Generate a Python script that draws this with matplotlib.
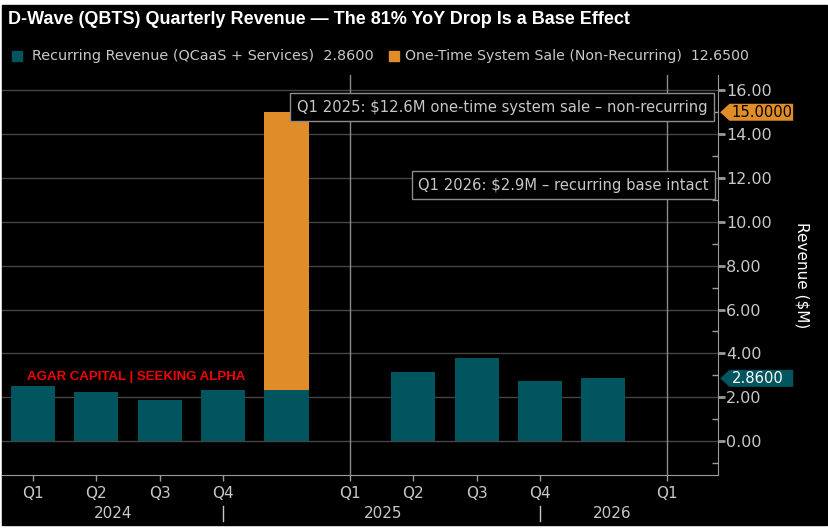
import numpy as np
import matplotlib
matplotlib.use('Agg')
import matplotlib.pyplot as plt
import matplotlib.transforms as mtransforms
from matplotlib.patches import Rectangle, Polygon

# Data (US$ millions)
bar_slots = [0, 1, 2, 3, 4, 6, 7, 8, 9]
recurring = [2.50, 2.23, 1.89, 2.34, 2.35, 3.13, 3.78, 2.75, 2.86]
one_time = [0, 0, 0, 0, 12.65, 0, 0, 0, 0]

tick_slots = [0, 1, 2, 3, 5, 6, 7, 8, 10]
tick_labels = ['Q1', 'Q2', 'Q3', 'Q4', 'Q1', 'Q2', 'Q3', 'Q4', 'Q1']
year_labels = ['2024', '2025', '2026']
year_slots = [1.26, 5.52, 9.14]
year_breaks = [3, 8]
year_starts = [5, 10]

last_recurring = 2.86
last_one_time = 12.65
peak_total = 15.0

TEAL = '#00555F'
ORANGE = '#E08C28'
GREY = '#c8c8c8'

plt.rcParams['font.family'] = ['DejaVu Sans']

W, H = 829, 531
fig = plt.figure(figsize=(W / 100, H / 100), dpi=100, facecolor='white')
fig.patches.append(Rectangle((2 / W, 1 - 525 / H), 825 / W, 520 / H,
                             transform=fig.transFigure, color='black', zorder=-10))

ax = fig.add_axes([2 / W, 1 - 475 / H, 716 / W, 400 / H])
ax.set_facecolor('black')
ax.set_xlim(-0.49, 10.81)
ax.set_ylim(-1.55, 16.7)

# bars
ax.bar(bar_slots, recurring, width=0.695, color=TEAL, zorder=3)
ax.bar(bar_slots, one_time, width=0.695, bottom=recurring, color=ORANGE, zorder=3)

# grid
for y in np.arange(0, 17, 2):
    ax.axhline(y, color='#454545', lw=1, zorder=1)
for x in year_starts:
    ax.axvline(x, color='#8a8a8a', lw=1, zorder=2)

# axes styling
for s in ['top', 'left']:
    ax.spines[s].set_visible(False)
ax.spines['right'].set_color('#9a9a9a')
ax.spines['bottom'].set_color('#9a9a9a')
ax.yaxis.tick_right()
ax.set_yticks(np.arange(0, 17, 2))
ax.set_yticklabels([f'{v:.2f}' for v in np.arange(0, 17, 2)])
ax.set_yticks(np.arange(-1, 17, 2), minor=True)
ax.tick_params(axis='y', which='major', direction='out', length=5, width=2,
               colors='#9a9a9a', labelcolor=GREY, labelsize=11.5, pad=1)
ax.tick_params(axis='y', which='minor', direction='in', length=4, width=1,
               colors='#9a9a9a')
ax.set_xticks(tick_slots)
ax.set_xticklabels(tick_labels)
ax.tick_params(axis='x', direction='out', length=4, width=1, colors='#9a9a9a',
               labelcolor=GREY, labelsize=11, pad=4)

xt = mtransforms.blended_transform_factory(ax.transData, ax.transAxes)
for lab, xs in zip(year_labels, year_slots):
    ax.text(xs, -0.095, lab, transform=xt, ha='center', va='center',
            color=GREY, fontsize=11)
for xs in year_breaks:
    ax.plot([xs, xs], [-0.078, -0.115], transform=xt, color=GREY, lw=1,
            clip_on=False)

ax.text(1.118, 0.5, 'Revenue ($M)', transform=ax.transAxes, rotation=270,
        ha='center', va='center', color='white', fontsize=11)

# value badges on the right axis
yt = mtransforms.blended_transform_factory(ax.transAxes, ax.transData)
hh = 8.5 * (16.7 + 1.55) / 400
for val, fc, tc, txt in [(peak_total, ORANGE, 'black', f'{peak_total:.4f}'),
                          (last_recurring, TEAL, 'white', f'{last_recurring:.4f}')]:
    pts = [(1.003, val), (1.016, val + hh), (1.105, val + hh),
           (1.105, val - hh), (1.016, val - hh)]
    ax.add_patch(Polygon(pts, closed=True, transform=yt, facecolor=fc,
                         edgecolor='none', clip_on=False, zorder=5))
    ax.text(1.019, val, txt, transform=yt, ha='left', va='center', color=tc,
            fontsize=10.6, zorder=6, clip_on=False)

# annotation boxes
box = dict(boxstyle='square,pad=0.45', facecolor='black', edgecolor='#8c8c8c', lw=1)
ax.text(4.16, 15.23, 'Q1 2025: $12.6M one-time system sale \u2013 non-recurring',
        ha='left', va='center', color=GREY, fontsize=10.6, bbox=box, zorder=6)
ax.text(6.08, 11.67, 'Q1 2026: $2.9M \u2013 recurring base intact',
        ha='left', va='center', color=GREY, fontsize=10.6, bbox=box, zorder=6)

# watermark
ax.text(0.187, 0.245, 'AGAR CAPITAL | SEEKING ALPHA', transform=ax.transAxes,
        ha='center', va='center', color='#f50000', fontsize=9.5,
        fontweight='bold', family=['Liberation Sans', 'DejaVu Sans'], zorder=6)

# title and legend
fig.text(8 / W, 1 - 20 / H, 'D-Wave (QBTS) Quarterly Revenue \u2014 The 81% YoY Drop Is a Base Effect',
         ha='left', va='center', color='white', fontsize=13, fontweight='bold',
         family=['Liberation Sans', 'DejaVu Sans'])
fig.patches.append(Rectangle((12 / W, 1 - 61 / H), 10 / W, 10 / H,
                             transform=fig.transFigure, color=TEAL))
fig.text(32 / W, 1 - 56 / H, f'Recurring Revenue (QCaaS + Services)  {last_recurring:.4f}',
         ha='left', va='center', color=GREY, fontsize=10.4)
fig.patches.append(Rectangle((389 / W, 1 - 61 / H), 10 / W, 10 / H,
                             transform=fig.transFigure, color=ORANGE))
fig.text(405 / W, 1 - 56 / H, f'One-Time System Sale (Non-Recurring)  {last_one_time:.4f}',
         ha='left', va='center', color=GREY, fontsize=10.2)

fig.savefig('out.png', dpi=100, facecolor='white')
